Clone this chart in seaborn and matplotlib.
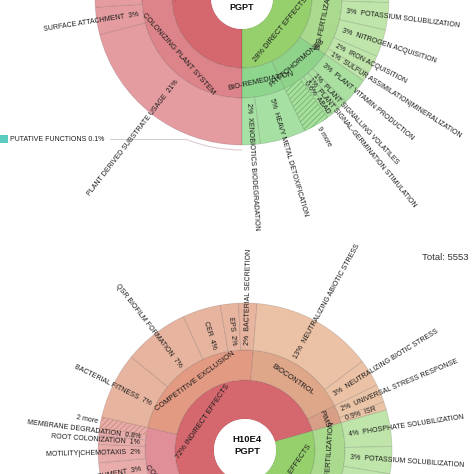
import numpy as np
import matplotlib
matplotlib.use("Agg")
import matplotlib.pyplot as plt
from matplotlib.patches import Wedge, Rectangle, Arc
import seaborn as sns

# ---- top chart (cut off at the top of the figure) ----
top_l1 = ["INDIRECT EFFECTS", "DIRECT EFFECTS"]
top_l1_pct = [72, 28]
top_l2 = ["COLONIZING PLANT SYSTEM", "", "BIO-FERTILIZATION", "PHYTOHORMONES", "BIO-REMEDIATION"]
top_l2_pct = [27, 45, 12.5, 8.5, 7]
top_l3 = ["PLANT DERIVED SUBSTRATE USAGE", "SURFACE ATTACHMENT", "",
          "PHOSPHATE SOLUBILIZATION", "POTASSIUM SOLUBILIZATION", "NITROGEN ACQUISITION",
          "IRON ACQUISITION", "SULFUR ASSIMILATION|MINERALIZATION",
          "PLANT VITAMIN PRODUCTION", "PLANT SIGNALLING VOLATILES",
          "PLANT SIGNAL-GERMINATION STIMULATION", "ABAD", "9 more",
          "HEAVY METAL DETOXIFICATION", "XENOBIOTICS BIODEGRADATION"]
top_l3_pct = [21, 3, 3, 3.5, 3, 3, 2, 1, 3, 1, 1, 0.6, 2.9, 5, 2]
top_l3_parent = [0, 0, 0, 2, 2, 2, 2, 2, 3, 3, 3, 3, 3, 4, 4]

# ---- bottom chart (H10E4) ----
bot_l1 = ["INDIRECT EFFECTS", "DIRECT EFFECTS"]
bot_l1_pct = [72, 28]
bot_l2 = ["COLONIZING PLANT SYSTEM", "COMPETITIVE EXCLUSION", "BIOCONTROL", "PIMS",
          "BIO-FERTILIZATION", ""]
bot_l2_pct = [30, 22.7, 16.4, 2.9, 11, 17]
bot_l3 = ["PLANT DERIVED SUBSTRATE USAGE", "SURFACE ATTACHMENT", "MOTILITY|CHEMOTAXIS",
          "ROOT COLONIZATION", "MEMBRANE DEGRADATION", "2 more",
          "BACTERIAL FITNESS", "QSR BIOFILM FORMATION", "CER", "EPS", "BACTERIAL SECRETION",
          "NEUTRALIZING ABIOTIC STRESS", "NEUTRALIZING BIOTIC STRESS",
          "UNIVERSAL STRESS RESPONSE", "ISR",
          "PHOSPHATE SOLUBILIZATION", "POTASSIUM SOLUBILIZATION", ""]
bot_l3_pct = [22, 3, 2, 1, 0.8, 1.2, 7.3, 7.2, 4.2, 2, 2, 13.4, 3, 2, 0.9, 4, 3, 4]
bot_l3_parent = [0, 0, 0, 0, 0, 0, 1, 1, 1, 1, 1, 2, 2, 3, 3, 4, 4, 4]

total_reads = 5553
putative_pct = 0.1

# colours
l1_cols = ["#d5686e", "#95d06c"]
top_l2_cols = ["#dc8489", "#e39a85", "#a9da8d", "#8fd38a", "#8ed58e"]
top_l3_cols = ["#e49ca0", "#e8b49f", "#bfe5aa", "#a9df9f", "#a6e0a2"]
bot_l2_cols = ["#e08e98", "#e29a83", "#dfa78a", "#d89f86", "#a9da8d", "#8fd38a"]
bot_l3_cols = ["#e8adab", "#e7b49f", "#ebc2a6", "#eac4a6", "#bfe5aa", "#a9df9f"]
hatch_cols = {"top": "#6fb56b", "bot": "#c98c78"}

R0, R1, R2, R3 = 31, 70, 100, 147
EDGE = (0, 0, 0, 0.13)
TXT = "#1a1a1a"
FS = 5.0
FS_IN = 5.4

sns.set_theme(style="white")
plt.rcParams['font.family'] = ['Liberation Sans', 'DejaVu Sans']
plt.rcParams['hatch.linewidth'] = 0.6


def pct_text(v):
    return f"{v:.0f}%" if v >= 1 else f"{v:.1f}%"


def tangent_rot(m):
    r = (m - 90) % 360
    if 90 < r <= 270:
        r -= 180
    elif r > 270:
        r -= 360
    return r


def polar(cx, cy, r, a):
    return cx + r * np.cos(np.radians(a)), cy + r * np.sin(np.radians(a))


def sunburst(ax, cx, cy, start, l1, l1_pct, l2, l2_pct, l2_cols,
             l3, l3_pct, l3_parent, l3_cols, hcol):
    # ring 1
    a = start
    for name, v, c in zip(l1, l1_pct, l1_cols):
        b = a - v * 3.6
        ax.add_patch(Wedge((cx, cy), R1, b, a, width=R1 - R0, fc=c, ec=EDGE, lw=0.6))
        m = (a + b) / 2
        x, y = polar(cx, cy, (R0 + R1) / 2, m)
        ax.text(x, y, f"{v}% {name}", rotation=tangent_rot(m), ha="center", va="center",
                rotation_mode="anchor", fontsize=FS_IN, color=TXT)
        a = b
    # ring 2
    a = start
    starts = []
    for i, (name, v) in enumerate(zip(l2, l2_pct)):
        b = a - v * 3.6
        outer = R2 if i in l3_parent else R3
        ax.add_patch(Wedge((cx, cy), outer, b, a, width=outer - R1, fc=l2_cols[i],
                           ec=EDGE, lw=0.6))
        if name:
            m = (a + b) / 2
            x, y = polar(cx, cy, (R1 + R2) / 2, m)
            ax.text(x, y, name, rotation=tangent_rot(m), ha="center", va="center",
                    rotation_mode="anchor", fontsize=FS_IN, color=TXT)
        starts.append(a)
        a = b
    # ring 3 (leaves)
    cursor = list(starts)
    for name, v, p in zip(l3, l3_pct, l3_parent):
        a = cursor[p]
        b = a - v * 3.6
        cursor[p] = b
        more = name.endswith("more")
        if more:
            ax.add_patch(Wedge((cx, cy), R3, b, a, width=R3 - R2, fc=l3_cols[p],
                               ec=hcol, lw=0.3, hatch="//////"))
        else:
            ax.add_patch(Wedge((cx, cy), R3, b, a, width=R3 - R2, fc=l3_cols[p],
                               ec=EDGE, lw=0.6))
        if not name:
            continue
        m = (a + b) / 2
        mm = (m + 180) % 360 - 180
        r = R3 + 3 if more else R2 + 5
        x, y = polar(cx, cy, r, m)
        if -90 <= mm <= 90:
            s = name if more else f"{pct_text(v)}  {name}"
            ax.text(x, y, s, rotation=mm, ha="left", va="center",
                    rotation_mode="anchor", fontsize=FS, color=TXT)
        else:
            s = name if more else f"{name}  {pct_text(v)}"
            rot = mm - 180 if mm > 0 else mm + 180
            ax.text(x, y, s, rotation=rot, ha="right", va="center",
                    rotation_mode="anchor", fontsize=FS, color=TXT)
    ax.add_patch(Wedge((cx, cy), R0, 0, 360, fc="white", ec="none"))


fig = plt.figure(figsize=(4.74, 4.74), dpi=100)
ax = fig.add_axes([0, 0, 1, 1])
ax.set_xlim(0, 474)
ax.set_ylim(0, 474)
ax.set_aspect("equal")
ax.axis("off")

# top chart, centre just above the figure edge
tcx, tcy = 242, 476
sunburst(ax, tcx, tcy, 270, top_l1, top_l1_pct, top_l2, top_l2_pct, top_l2_cols,
         top_l3, top_l3_pct, top_l3_parent, top_l3_cols, hatch_cols["top"])
ax.text(tcx, 467, "PGPT", ha="center", va="center", fontsize=6.5, fontweight="bold", color="#111111")

# putative functions key with leader line
ax.add_patch(Rectangle((0, 331), 8, 8, fc="#5ccbc0", ec="none"))
ax.text(10, 335, f"PUTATIVE FUNCTIONS {putative_pct}%", ha="left", va="center",
        fontsize=FS, color=TXT)
ra = 152
ya = 335
xa = tcx - np.sqrt(ra ** 2 - (tcy - ya) ** 2)
ang = np.degrees(np.arctan2(ya - tcy, xa - tcx)) % 360
ax.plot([110, xa], [ya, ya], color="#cfcfcf", lw=0.7)
ax.add_patch(Arc((tcx, tcy), 2 * ra, 2 * ra, theta1=ang, theta2=270, color="#d9c6cc", lw=0.7))

# bottom chart
bcx, bcy = 245, 24
sunburst(ax, bcx, bcy, 275, bot_l1, bot_l1_pct, bot_l2, bot_l2_pct, bot_l2_cols,
         bot_l3, bot_l3_pct, bot_l3_parent, bot_l3_cols, hatch_cols["bot"])
ax.text(bcx + 2, 34, "H10E4", ha="center", va="center", fontsize=6.8, fontweight="bold", color="#111111")
ax.text(bcx + 2, 22, "PGPT", ha="center", va="center", fontsize=6.8, fontweight="bold", color="#111111")

ax.text(422, 216, f"Total: {total_reads}", ha="left", va="center", fontsize=6.8, color="#333333")

fig.savefig("out.png", dpi=100)
